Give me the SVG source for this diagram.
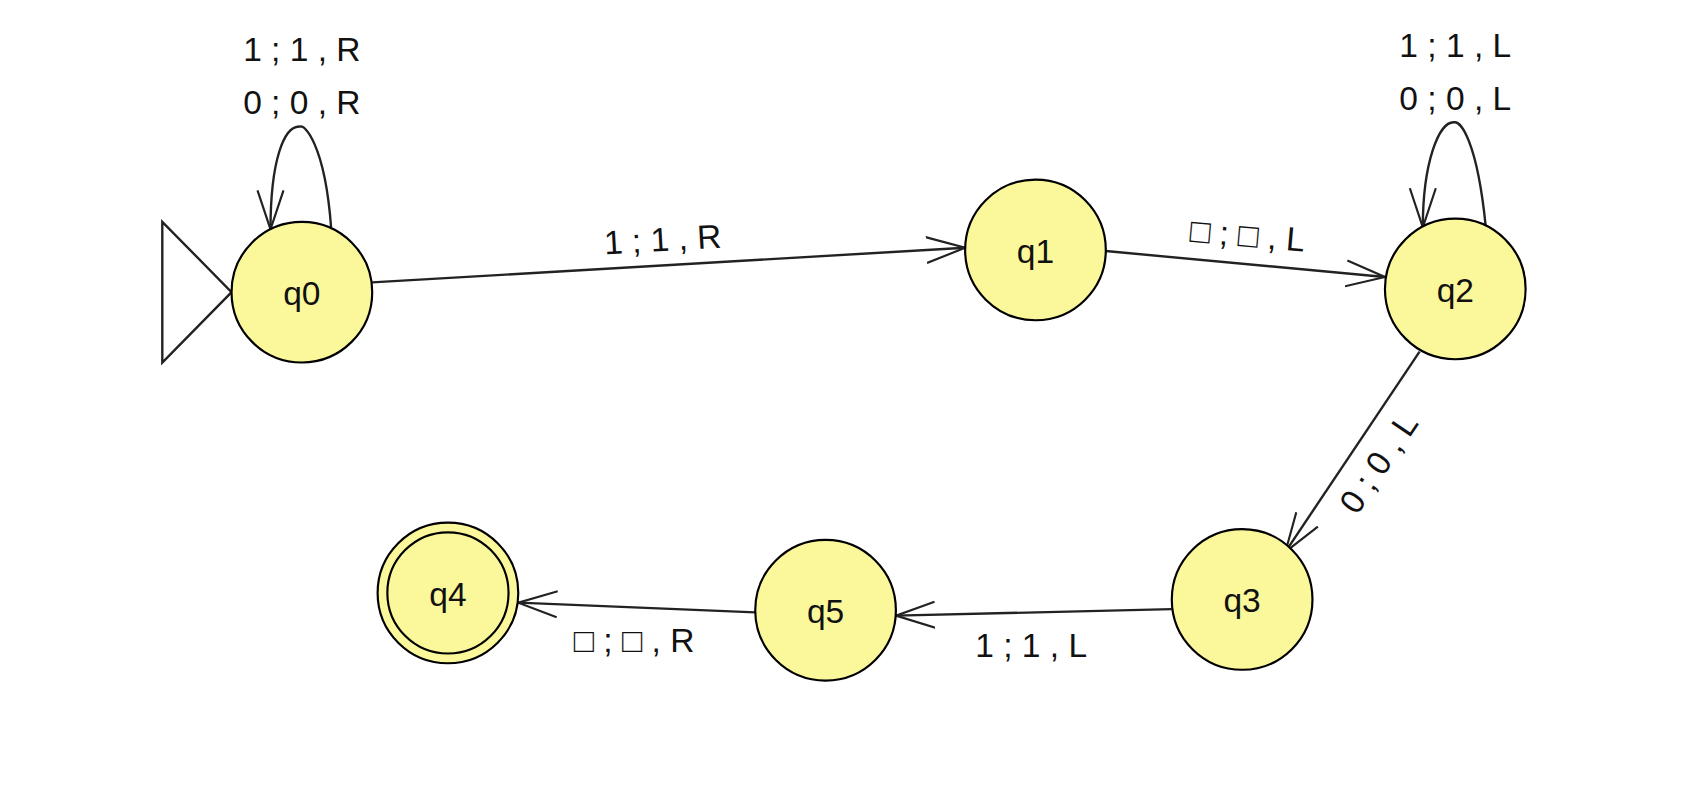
<svg xmlns="http://www.w3.org/2000/svg" width="1692" height="812" viewBox="0 0 1692 812">
<style>
.n{fill:#fbf89b;stroke:#000;stroke-width:2}
.t{font-family:"Liberation Sans",Arial,sans-serif;font-size:31px;fill:#111;text-anchor:middle}
.e{fill:none;stroke:#222;stroke-width:2.2}
</style>
<defs><marker id="a" markerWidth="40" markerHeight="30" refX="36" refY="12" orient="auto" markerUnits="userSpaceOnUse" viewBox="0 0 40 24"><path d="M0,0 L36,12 L0,24" fill="none" stroke="#222" stroke-width="2"/></marker></defs>
<rect width="1692" height="812" fill="#fff"/>
<g transform="scale(1.082)">
<g id="edges">
<path class="e" d="M150,205 L214,270 L150,335 Z" fill="#fff"/>
<path class="e" marker-end="url(#a)" d="M344,261 L892,229"/>
<path class="e" marker-end="url(#a)" d="M1022,232 L1280,256"/>
<path class="e" marker-end="url(#a)" d="M1312,325 L1188,510"/>
<path class="e" marker-end="url(#a)" d="M1083,563 L828,569"/>
<path class="e" marker-end="url(#a)" d="M698,566 L479,557"/>
<path class="e" marker-end="url(#a)" d="M306,210 C300,130 280,115 278,117 C262,115 250,150 250,212"/>
<path class="e" marker-end="url(#a)" d="M1373,208 C1365,130 1350,112 1344,113 C1330,112 1315,150 1315,210"/>
<text class="t" x="279" y="56">1 ; 1 , R</text>
<text class="t" x="279" y="105">0 ; 0 , R</text>
<text class="t" x="1345" y="53">1 ; 1 , L</text>
<text class="t" x="1345" y="102">0 ; 0 , L</text>
<text class="t" transform="translate(613,232) rotate(-3.3)">1 ; 1 , R</text>
<text class="t" transform="translate(1152,228) rotate(5)">□ ; □ , L</text>
<text class="t" transform="translate(1283,434) rotate(-56)">0 ; 0 , L</text>
<text class="t" x="953" y="607">1 ; 1 , L</text>
<text class="t" x="586" y="603">□ ; □ , R</text>
</g>
<g id="q0"><circle class="n" cx="279" cy="270" r="65"/><text class="t" x="279" y="282">q0</text></g>
<g id="q1"><circle class="n" cx="957" cy="231" r="65"/><text class="t" x="957" y="243">q1</text></g>
<g id="q2"><circle class="n" cx="1345" cy="267" r="65"/><text class="t" x="1345" y="279">q2</text></g>
<g id="q3"><circle class="n" cx="1148" cy="554" r="65"/><text class="t" x="1148" y="566">q3</text></g>
<g id="q5"><circle class="n" cx="763" cy="564" r="65"/><text class="t" x="763" y="576">q5</text></g>
<g id="q4"><circle class="n" cx="414" cy="548" r="65"/><circle class="n" cx="414" cy="548" r="56"/><text class="t" x="414" y="560">q4</text></g>
</g>
</svg>
